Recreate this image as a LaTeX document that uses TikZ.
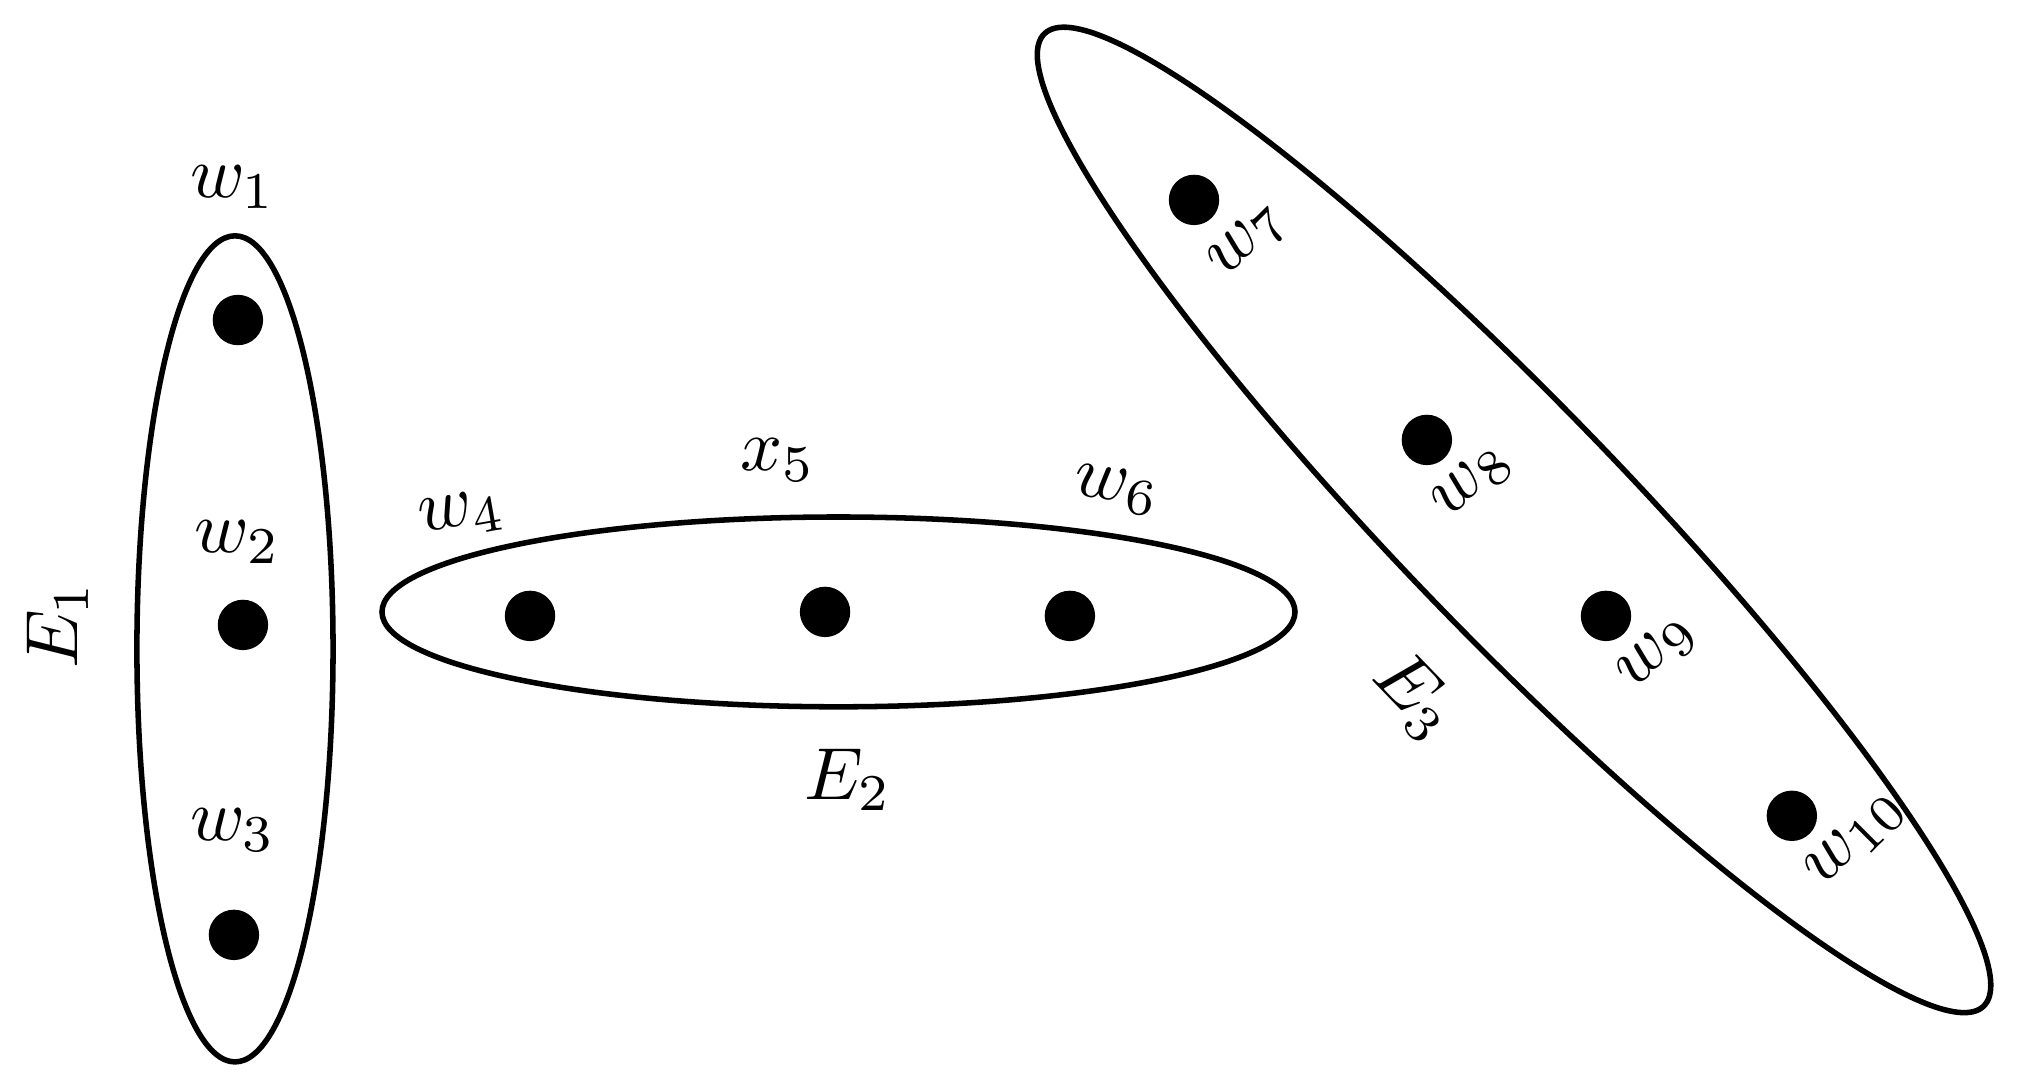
\documentclass[tikz,border=0pt]{standalone}
\usepackage{amsmath}
\usepackage{amssymb}
\usetikzlibrary{calc}

\begin{document}
\begin{tikzpicture}[vtx/.style={circle, fill, inner sep=0pt, minimum size=2.4mm},
                    edge/.style={line width=0.75pt}]
      \useasboundingbox (0, 0) rectangle (9.648, 5.195);

      \coordinate (e1) at (1.119, 2.105);
      \coordinate (e2) at (3.993, 2.281);
      \coordinate (e3) at (7.210, 2.719);

      \node[vtx] (1) at (1.133, 3.671) {};
      \node[vtx] (2) at (1.157, 2.219) {};
      \node[vtx] (3) at (1.114, 0.743) {};
      \node[vtx] (4) at (2.524, 2.262) {};
      \node[vtx] (5) at (3.929, 2.281) {};
      \node[vtx] (6) at (5.095, 2.262) {};
      \node[vtx] (7) at (5.686, 4.243) {};
      \node[vtx] (8) at (6.795, 3.100) {};
      \node[vtx] (9) at (7.648, 2.262) {};
      \node[vtx] (10) at (8.533, 1.310) {};

      \node (l1) at (1.110, 4.305) {$w_1$};
      \node (l2) at (1.133, 2.614) {$w_2$};
      \node (l3) at (1.110, 1.243) {$w_3$};
      \node[rotate=10] (l4) at (2.200, 2.743) {$w_4$};
      \node (l5) at (3.705, 3.005) {$x_5$};
      \node[rotate=-8] (l6) at (5.319, 2.862) {$w_6$};
      \node[rotate=45] (l7) at (5.948, 4.048) {$w_7$};
      \node[rotate=45] (l8) at (7.014, 2.900) {$w_8$};
      \node[rotate=45] (l9) at (7.895, 2.086) {$w_9$};
      \node[rotate=45] (l10) at (8.838, 1.200) {$w_{10}$};

      \node[rotate=90] (E1) at (0.276, 2.219) {$E_1$};
      \node (E2) at (4.038, 1.481) {$E_2$};
      \node[rotate=-46] (E3) at (6.740, 1.880) {$E_3$};

      \draw[edge] (e1) ellipse (0.467 and 1.967);
      \draw[edge] (e2) ellipse (2.174 and 0.452);
      \draw[edge, rotate around={-46:(e3)}] (e3) ellipse (3.219 and 0.543);
\end{tikzpicture}
\end{document}
